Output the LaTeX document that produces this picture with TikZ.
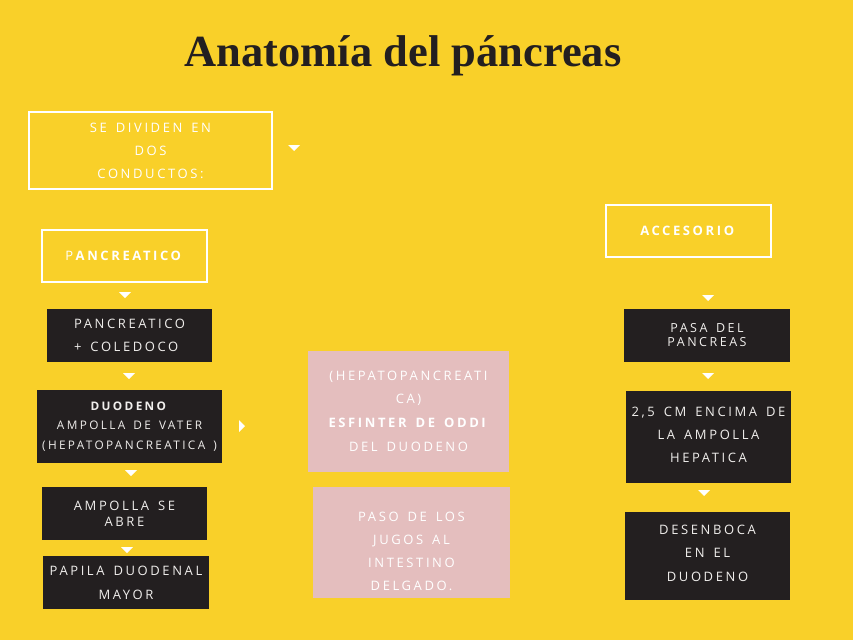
\documentclass[tikz,border=0pt]{standalone}
\usepackage{fontspec}
\setmainfont{Liberation Serif}
\newfontfamily\boxfont{Open Sans}[LetterSpace=20,WordSpace=1.5]
\usetikzlibrary{positioning}
\definecolor{bgyellow}{RGB}{249,208,41}
\definecolor{boxdark}{RGB}{35,31,32}
\definecolor{boxpink}{RGB}{228,190,190}
\definecolor{lighttext}{RGB}{240,238,236}
\tikzset{
  dtri/.pic={\fill[white] (-6,-3) -- (6,-3) -- (0,3) -- cycle;},
  rtri/.pic={\fill[white] (-3,-6) -- (-3,6) -- (3,0) -- cycle;}
}

\begin{document}
\begin{tikzpicture}[x=1pt,y=-1pt]
                    \tikzstyle{every node}+=[inner sep=0pt, align=center, font=\boxfont\fontsize{13}{23}\selectfont]
                    \tikzstyle{outlinebox}=[draw=white, line width=1.8pt, text=white]
                    \tikzstyle{blackbox}=[fill=boxdark, text=lighttext]
                    \tikzstyle{pinkbox}=[fill=boxpink, text=white]
                    \fill [bgyellow] (0,0) rectangle (853,640);
                    \useasboundingbox (0,0) rectangle (853,640);
                    % title
                    \node [text=boxdark, font=\bfseries\fontsize{44.5}{50}\selectfont] (title) at (403,56) {Anatomía del páncreas};
                    % top box
                    \node [outlinebox, minimum width=243pt, minimum height=77pt] (split) at (150.5,150.5) {SE DIVIDEN EN\\DOS\\CONDUCTOS:};
                    \pic at (294,148) {dtri};
                    % pancreatico column
                    \node [outlinebox, minimum width=165pt, minimum height=52pt] (pancreatico) at (124.5,256) {P\textbf{ANCREATICO}};
                    \pic at (125,295) {dtri};
                    \node [blackbox, minimum width=165pt, minimum height=53pt, align=left] (pancol) at (129.5,335.5) {PANCREATICO\\+ COLEDOCO};
                    \pic at (129,376) {dtri};
                    \node [blackbox, minimum width=185pt, minimum height=73pt, font=\boxfont\fontsize{11.8}{19.5}\selectfont] (duodeno) at (129.5,426.5) {\rule{0pt}{4pt}\textbf{DUODENO}\\AMPOLLA DE VATER\\(HEPATOPANCREATICA )};
                    \pic at (242,426) {rtri};
                    \pic at (131,473) {dtri};
                    \node [blackbox, minimum width=165pt, minimum height=53pt, font=\boxfont\fontsize{13}{16}\selectfont] (ampolla) at (124.5,513.5) {AMPOLLA SE\\ABRE};
                    \pic at (127,550) {dtri};
                    \node [blackbox, minimum width=166pt, minimum height=53pt, font=\boxfont\fontsize{13}{24}\selectfont] (papila) at (126,582.5) {PAPILA DUODENAL\\MAYOR};
                    % middle column
                    \node [pinkbox, minimum width=201pt, minimum height=121pt, font=\boxfont\fontsize{13}{23.7}\selectfont] (esfinter) at (408.5,411) {(HEPATOPANCREATI\\CA)\\\textbf{ESFINTER DE ODDI}\\DEL DUODENO};
                    \node [pinkbox, minimum width=197pt, minimum height=111pt] (paso) at (411.5,542.5) {\rule{0pt}{27pt}PASO DE LOS\\JUGOS AL\\INTESTINO\\DELGADO.};
                    % accesorio column
                    \node [outlinebox, minimum width=165pt, minimum height=52pt] (accesorio) at (688.5,231) {\textbf{ACCESORIO}};
                    \pic at (708,298) {dtri};
                    \node [blackbox, minimum width=166pt, minimum height=53pt, font=\boxfont\fontsize{12.5}{14}\selectfont] (pasadel) at (707,335.5) {PASA DEL\\PANCREAS};
                    \pic at (708,376) {dtri};
                    \node [blackbox, minimum width=165pt, minimum height=92pt] (encima) at (708.5,437) {2,5 CM ENCIMA DE\\LA AMPOLLA\\HEPATICA\rule[-4pt]{0pt}{0pt}};
                    \pic at (704,493) {dtri};
                    \node [blackbox, minimum width=165pt, minimum height=88pt, font=\boxfont\fontsize{13}{23.5}\selectfont] (desemboca) at (707.5,556) {DESENBOCA\\EN EL\\DUODENO\rule[-6pt]{0pt}{0pt}};
\end{tikzpicture}
\end{document}
